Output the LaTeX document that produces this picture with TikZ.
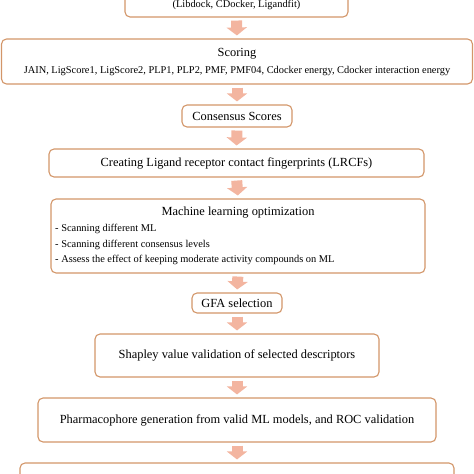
\documentclass[tikz,border=0pt]{standalone}
\usepackage{fontspec}
\setmainfont{Liberation Serif}
\usetikzlibrary{arrows.meta}
\definecolor{boxline}{HTML}{D39669}
\definecolor{arrowfill}{HTML}{F3B5A0}
\tikzset{
  flowbox/.style={draw=boxline, line width=1.1pt, rounded corners=5pt, fill=white, inner sep=0pt, align=center},
  fatarrow/.style={draw=arrowfill, line width=11pt, -{Triangle[width=20pt,length=8pt]}, shorten <=3pt, shorten >=3pt},
  titletext/.style={font=\fontsize{12.4}{14}\selectfont, inner sep=0pt},
  listtext/.style={font=\fontsize{10.4}{12}\selectfont, inner sep=0pt},
}
\begin{document}
\begin{tikzpicture}[x=1pt,y=-1pt]
\useasboundingbox (0,0) rectangle (474,474);
\clip (0,0) rectangle (474,474);
\node[flowbox, minimum width=223pt, minimum height=45pt] (b1) at (236.5,-5.5) {};
\node[listtext] (t1) at (236.5,5) {(Libdock, CDocker, Ligandfit)};
\node[flowbox, minimum width=471pt, minimum height=45pt] (b2) at (237,61.5) {};
\node[titletext] (t2a) at (237,54) {Scoring};
\node[listtext] (t2b) at (237,71) {JAIN, LigScore1, LigScore2, PLP1, PLP2, PMF, PMF04, Cdocker energy, Cdocker interaction energy};
\node[flowbox, minimum width=110pt, minimum height=22pt, titletext] (b3) at (237,116) {Consensus Scores};
\node[flowbox, minimum width=375pt, minimum height=28pt, titletext] (b4) at (236.5,163) {Creating Ligand receptor contact fingerprints (LRCFs)};
\node[flowbox, minimum width=374pt, minimum height=74pt] (b5) at (238,236) {};
\node[titletext] (t5) at (238,213) {Machine learning optimization};
\node[listtext, anchor=west] (t5a) at (55,229) {- Scanning different ML};
\node[listtext, anchor=west] (t5b) at (55,245) {- Scanning different consensus levels};
\node[listtext, anchor=west] (t5c) at (55,260) {- Assess the effect of keeping moderate activity compounds on ML};
\node[flowbox, minimum width=90pt, minimum height=20pt, titletext] (b6) at (237,303) {GFA selection};
\node[flowbox, minimum width=284pt, minimum height=43pt, titletext] (b7) at (237,355.5) {Shapley value validation of selected descriptors};
\node[flowbox, minimum width=398pt, minimum height=44pt, titletext] (b8) at (237,420) {Pharmacophore generation from valid ML models, and ROC validation};
\node[flowbox, minimum width=434pt, minimum height=40pt] (b9) at (237,483) {};
\draw[fatarrow] (b1.south) -- (b2.north);
\draw[fatarrow] (b2.south) -- (b3.north);
\draw[fatarrow] (b3.south) -- (b4.north);
\draw[fatarrow] (b4.south) -- (b5.north);
\draw[fatarrow] (b5.south) -- (b6.north);
\draw[fatarrow] (b6.south) -- (b7.north);
\draw[fatarrow] (b7.south) -- (b8.north);
\draw[fatarrow] (b8.south) -- (b9.north);
\end{tikzpicture}
\end{document}
